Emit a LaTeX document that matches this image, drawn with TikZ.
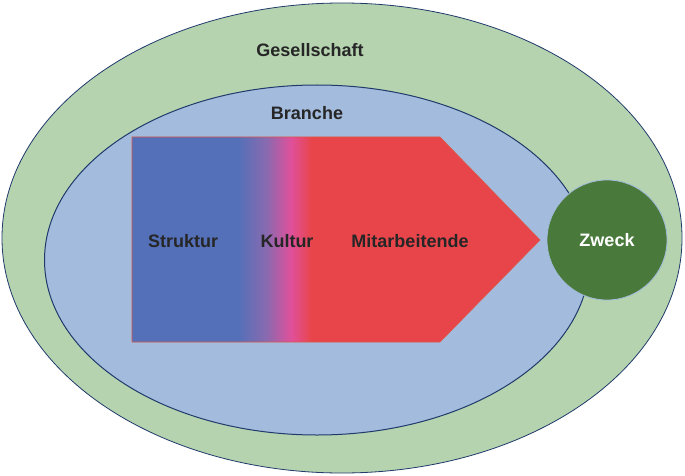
\documentclass[tikz,border=0pt]{standalone}
\usepackage{fontspec}
\setmainfont{Liberation Sans}
\usetikzlibrary{shapes.geometric}
\definecolor{outerg}{HTML}{B5D3AF}
\definecolor{innerb}{HTML}{A3BBDC}
\definecolor{edge}{HTML}{1F3A6B}
\definecolor{blu}{HTML}{5470B8}
\definecolor{purp}{HTML}{8A6AB0}
\definecolor{pink}{HTML}{E0509A}
\definecolor{redc}{HTML}{E8454B}
\definecolor{zg}{HTML}{4A7A3B}
\pgfdeclarehorizontalshading{grad}{100bp}{color(0bp)=(blu); color(38bp)=(blu); color(41.5bp)=(purp); color(44.5bp)=(pink); color(47bp)=(redc); color(100bp)=(redc)}
\tikzset{lbl/.style={font=\bfseries\fontsize{18}{21}\selectfont, text=black!85}}
\begin{document}
\begin{tikzpicture}[x=1pt,y=-1pt]
\useasboundingbox (0,0) rectangle (685,476);
\node[ellipse,draw=edge,fill=outerg,line width=0.8pt,minimum width=680,minimum height=470,inner sep=0] (outer) at (342,238) {};
\node[ellipse,draw=edge,fill=innerb,line width=1pt,minimum width=545,minimum height=350,inner sep=0] (inner) at (317,260) {};
\path[shading=grad,draw=redc!70!brown,line width=0.6pt] (132,137) -- (440,137) -- (540,240) -- (440,342) -- (132,342) -- cycle;
\node[circle,draw=innerb,fill=zg,line width=0.8pt,minimum size=120,inner sep=0] (zweck) at (607,240) {};
\node[lbl,text=white] at (zweck) {Zweck};
\node[lbl] (g) at (310,50) {Gesellschaft};
\node[lbl] (b) at (307,113) {Branche};
\node[lbl] (s) at (183,241) {Struktur};
\node[lbl] (k) at (287,241) {Kultur};
\node[lbl] (m) at (410,241) {Mitarbeitende};
\end{tikzpicture}
\end{document}
